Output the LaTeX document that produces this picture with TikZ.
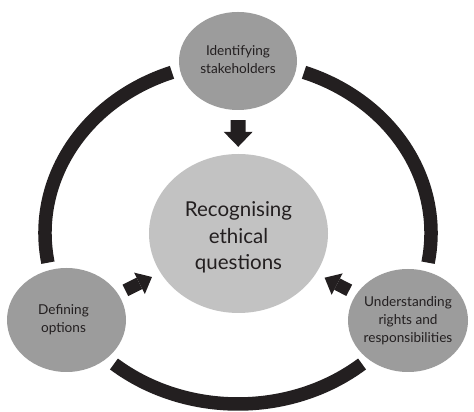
\documentclass[tikz,border=0pt]{standalone}
\usepackage{fontspec}
\setmainfont{Lato}
\usetikzlibrary{shapes.geometric,arrows.meta}
\definecolor{ringcol}{HTML}{231F20}
\definecolor{sidefill}{HTML}{9C9C9C}
\definecolor{midfill}{HTML}{C2C2C2}
\definecolor{txtcol}{HTML}{231F20}
\tikzset{
  ringarc/.style={line width=13.5pt,draw=ringcol,line cap=butt},
  sidenode/.style={ellipse,fill=sidefill,draw=none,inner sep=0pt},
  midnode/.style={ellipse,fill=midfill,draw=none,inner sep=0pt},
  smalltext/.style={align=center,text=txtcol,font=\fontsize{13.6}{18}\selectfont,inner sep=0pt},
  bigtext/.style={align=center,text=txtcol,font=\fontsize{20.5}{26.7}\selectfont,inner sep=0pt},
  toparrow/.style={draw=ringcol,line width=15pt,-{Triangle[width=29pt,length=15pt,line width=0pt]}},
  sidearrow/.style={draw=ringcol,line width=12.7pt,-{Triangle[width=24pt,length=14pt,line width=0pt]}}
}
\begin{document}
\begin{tikzpicture}[x=1pt,y=1pt]
\useasboundingbox (0,0) rectangle (474,412);
\clip (0,0) rectangle (474,412);
\fill[white] (0,0) rectangle (474,412);
\coordinate (ring) at (238,179);
% ring arcs
\draw[ringarc] ([shift={(110:193pt and 171pt)}]ring) arc[start angle=110,end angle=190,x radius=193pt,y radius=171pt];
\draw[ringarc] ([shift={(-10:193pt and 171pt)}]ring) arc[start angle=-10,end angle=70,x radius=193pt,y radius=171pt];
\draw[ringarc] ([shift={(230:193pt and 171pt)}]ring) arc[start angle=230,end angle=310,x radius=193pt,y radius=171pt];
% nodes
\node[sidenode,minimum width=118pt,minimum height=98pt] (top) at (238,351) {};
\node[midnode,minimum width=179pt,minimum height=159pt] (mid) at (238.5,178.5) {};
\node[sidenode,minimum width=119pt,minimum height=104pt] (left) at (66.5,92) {};
\node[sidenode,minimum width=120pt,minimum height=103pt] (right) at (408,91.5) {};
% texts
\node[smalltext] (topt) at ([yshift=1pt]top.center) {Identifying\\stakeholders};
\node[bigtext] (midt) at ([yshift=-4pt]mid.center) {Recognising\\ethical\\questions};
\node[smalltext] (leftt) at ([xshift=-3pt]left.center) {Defining\\options};
\node[smalltext] (rightt) at (right.center) {Understanding\\rights and\\responsibilities};
% arrows
\draw[toparrow,shorten <=10pt,shorten >=7pt] (top) -- (mid);
\draw[sidearrow,shorten <=8pt,shorten >=9.5pt] (left) -- (mid);
\draw[sidearrow,shorten <=8pt,shorten >=9.5pt] (right) -- (mid);
\end{tikzpicture}
\end{document}
